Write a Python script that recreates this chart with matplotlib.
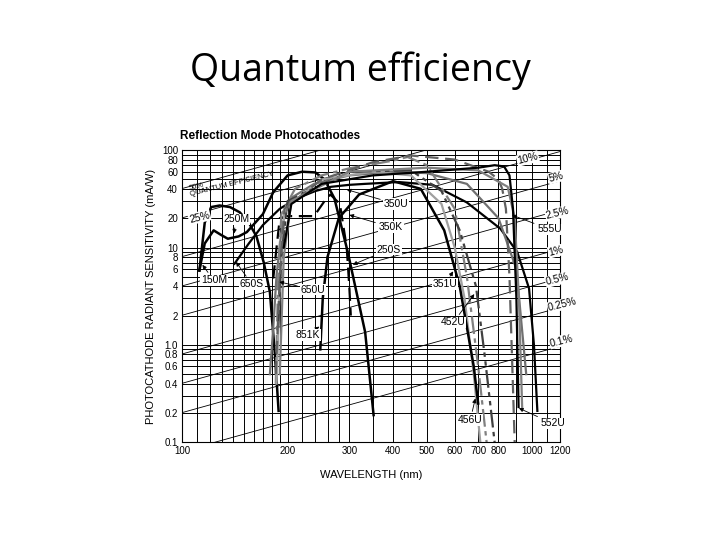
import matplotlib
matplotlib.use("Agg")
import matplotlib.pyplot as plt
import numpy as np
from matplotlib.ticker import FixedLocator, NullFormatter

plt.rcParams['font.family'] = ['Liberation Sans', 'DejaVu Sans']

# ---------- data (wavelength nm, sensitivity mA/W) ----------
curves = {
    "150M": ([112, 116, 121, 128, 137, 146, 155, 163, 171, 178, 184, 188.5],
             [5.8, 18, 26, 27, 26, 23, 18, 13, 7, 3.5, 0.8, 0.21]),
    "250M": ([112, 116, 123, 129, 135, 145, 153, 170, 182, 200, 220, 240, 255, 272, 297, 333, 352],
             [5.8, 11, 15, 13.5, 12.3, 13, 14.4, 22, 37, 55, 60, 59, 50, 32, 9, 1.35, 0.19]),
    "650S": ([141, 155, 170, 190, 213, 240, 266, 300, 332, 415, 519, 650, 810, 905, 978, 1010, 1033],
             [6.8, 11, 17, 25, 32, 38, 42, 44, 45, 47, 44, 29, 15.6, 9, 3.8, 1.0, 0.21]),
    "650U": ([178, 182, 186, 193, 204, 238, 300, 400, 500, 650, 800, 900, 960],
             [0.5, 1.5, 5.2, 17, 32, 45, 55, 60, 58, 45, 20, 6, 0.5]),
    "350K": ([182, 186, 190, 200, 238, 255, 265, 282, 295, 300, 303],
             [4.8, 10, 20, 21, 21, 30, 35, 28, 10, 4, 2]),
    "350U": ([185, 188, 192, 210, 250, 300, 400, 440, 500, 600, 650, 700, 740],
             [0.4, 5, 22, 40, 55, 65, 78, 85, 70, 25, 5, 0.6, 0.1]),
    "351U": ([186, 190, 196, 250, 350, 450, 550, 600, 640, 680, 710],
             [0.4, 4, 25, 50, 60, 55, 28, 10, 3, 0.5, 0.1]),
    "452U": ([188, 192, 200, 300, 450, 550, 620, 690, 730, 780],
             [1.5, 8, 30, 60, 62, 38, 15, 4, 0.8, 0.1]),
    "851K": ([248, 252, 260, 280, 320, 400, 480, 560, 620, 680, 700],
             [0.9, 3, 8, 20, 35, 48, 40, 15, 4, 0.6, 0.25]),
    "555U": ([185, 190, 196, 250, 350, 450, 600, 750, 800, 820, 840, 860, 890],
             [0.5, 5, 25, 50, 75, 88, 80, 60, 50, 40, 25, 5, 0.1]),
    "552U": ([190, 195, 205, 300, 500, 700, 850, 890, 915, 925, 935],
             [0.5, 8, 30, 60, 66, 62, 42, 20, 3, 0.8, 0.22]),
    "BLK": ([195, 205, 250, 350, 500, 700, 780, 830, 860, 880, 900, 913],
            [10, 28, 45, 55, 60, 66, 70, 68, 55, 25, 3, 0.23]),
}
styles = {
    "150M": ("black", "-", 1.8), "250M": ("black", "-", 1.8),
    "650S": ("black", "-", 1.6), "650U": ("#707070", "-", 1.6),
    "350K": ("black", (0, (6, 3)), 1.6), "350U": ("#808080", (0, (8, 2, 2, 2)), 1.6),
    "351U": ("#a0a0a0", "-", 1.6), "452U": ("#404040", (0, (8, 2, 2, 2, 2, 2)), 1.6),
    "851K": ("black", "-", 1.8), "555U": ("#606060", (0, (6, 3)), 1.6),
    "552U": ("#808080", "-", 1.6), "BLK": ("black", "-", 1.6),
}
qe_levels = [50, 25, 10, 5, 2.5, 1, 0.5, 0.25, 0.1]

labels = {  # label: (text pos, arrow target)
    "150M": ((113, 4.6), (113, 7)), "650S": ((146, 4.2), (141, 7.5)),
    "250M": ((131, 19.4), (140, 13)), "650U": ((218, 3.7), (186, 4.5)),
    "851K": ((211, 1.27), (250, 1.6)), "350U": ((376, 28), (290, 40)),
    "350K": ((364, 16.2), (295, 22)), "250S": ((359, 9.5), (302, 6.5)),
    "351U": ((518, 4.2), (600, 6)), "452U": ((548, 1.7), (690, 3.5)),
    "456U": ((613, 0.17), (690, 0.3)), "555U": ((1033, 15.4), (860, 22)),
    "552U": ((1053, 0.156), (900, 0.23)),
}
qe_label_pos = {10: (900, 82), 5: (1105, 53), 2.5: (1085, 22.5), 1: (1105, 9.2),
                0.5: (1085, 4.7), 0.25: (1100, 2.6), 0.1: (1115, 1.1)}

fig = plt.figure(figsize=(7.2, 5.4), dpi=100)
fig.text(0.5, 0.87, "Quantum efficiency", ha="center", va="center", fontsize=27,
         family=["Open Sans", "DejaVu Sans"])
fig.text(0.25, 0.742, "Reflection Mode Photocathodes", fontsize=8.5, fontweight="bold")
ax = fig.add_axes([0.253, 0.181, 0.525, 0.541])
ax.set_xscale("log")
ax.set_yscale("log")
ax.set_xlim(100, 1200)
ax.set_ylim(0.1, 100)

xmaj = [100, 200, 300, 400, 500, 600, 700, 800, 1000, 1200]
xmin = list(range(110, 200, 10)) + [220, 240, 260, 280, 350, 450, 900, 1100]
ax.xaxis.set_major_locator(FixedLocator(xmaj))
ax.set_xticklabels([str(v) for v in xmaj])
ax.xaxis.set_minor_locator(FixedLocator(xmin))
ax.xaxis.set_minor_formatter(NullFormatter())
ymaj = [0.1, 0.2, 0.4, 0.6, 0.8, 1, 2, 4, 6, 8, 10, 20, 40, 60, 80, 100]
ax.yaxis.set_major_locator(FixedLocator(ymaj))
ax.set_yticklabels(["0.1", "0.2", "0.4", "0.6", "0.8", "1.0", "2", "4", "6", "8",
                    "10", "20", "40", "60", "80", "100"])
ax.yaxis.set_minor_locator(FixedLocator([0.3, 0.5, 0.7, 0.9, 3, 5, 7, 9, 30, 50, 70, 90]))
ax.yaxis.set_minor_formatter(NullFormatter())
ax.grid(which="both", color="black", lw=0.7)
ax.tick_params(which="both", length=0, labelsize=7, pad=3)
for s in ax.spines.values():
    s.set_linewidth(0.8)

lam = np.array([100, 1200])
for q in qe_levels:
    ax.plot(lam, q / 100 * lam / 1239.84 * 1000, color="black", lw=0.6)
for q, (x, y) in qe_label_pos.items():
    ax.text(x, y, f"{q:g}%", fontsize=7.5, rotation=14, ha="left", va="center",
            bbox=dict(fc="white", ec="none", pad=0.5))
ax.text(104, 20.5, "25%", fontsize=7.5, rotation=14, va="center",
        bbox=dict(fc="white", ec="none", pad=0.5))
ax.text(104, 48, "50%\nQUANTUM EFFICIENCY", fontsize=5.5, rotation=14, va="center",
        linespacing=0.9)

for name, (xs, ys) in curves.items():
    c, ls, lw = styles[name]
    ax.plot(xs, ys, color=c, linestyle=ls, lw=lw)

for name, ((tx, ty), (ax_, ay)) in labels.items():
    ax.annotate(name, xy=(ax_, ay), xytext=(tx, ty), fontsize=7.5, ha="left", va="center",
                bbox=dict(fc="white", ec="none", pad=0.5),
                arrowprops=dict(arrowstyle="-|>", color="black", lw=0.6, mutation_scale=6))

ax.set_xlabel("WAVELENGTH (nm)", fontsize=8, labelpad=10)
ax.set_ylabel("PHOTOCATHODE RADIANT SENSITIVITY (mA/W)", fontsize=8, labelpad=4)

fig.savefig("out.png", dpi=100)
